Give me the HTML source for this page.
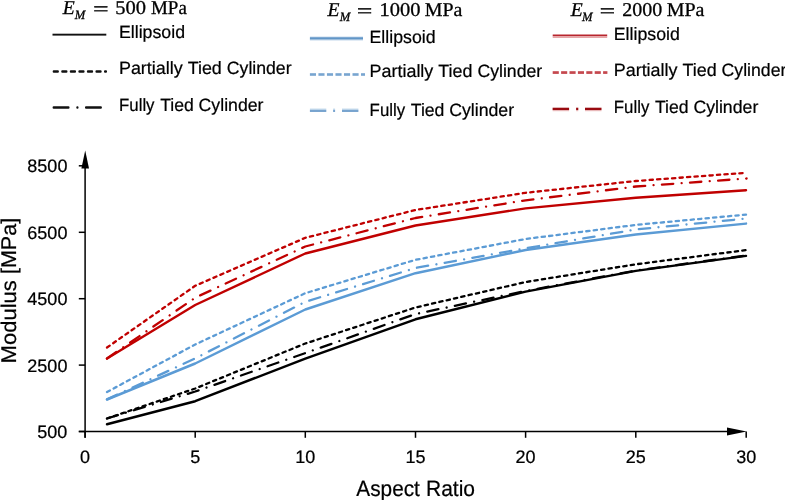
<!DOCTYPE html>
<html><head><meta charset="utf-8"><title>Modulus vs Aspect Ratio</title>
<style>html,body{margin:0;padding:0;background:#fff;}svg{display:block;}text{font-family:"Liberation Sans", Arial, sans-serif;fill:#000;stroke:#000;stroke-width:0.22px;text-rendering:geometricPrecision;}.m{font-family:"Liberation Serif", "Times New Roman", serif;stroke-width:0.3px;}.q{stroke-width:0.3px;}</style>
</head><body>
<svg width="785" height="500" viewBox="0 0 785 500">
<rect width="785" height="500" fill="#fff"/>
<polyline points="107.0,424.3 195.2,401.2 305.3,358.6 415.5,319.3 525.6,291.6 635.8,270.9 746.0,255.9" fill="none" stroke="#000000" stroke-width="2.45" stroke-linejoin="round" stroke-linecap="round"/>
<polyline points="107.0,418.5 195.2,388.5 305.3,343.5 415.5,307.5 525.6,282.0 635.8,264.3 746.0,250.1" fill="none" stroke="#000000" stroke-width="2.30" stroke-linejoin="round" stroke-dasharray="3.30 4.20" stroke-linecap="round"/>
<polyline points="107.0,418.5 195.2,391.5 305.3,353.1 415.5,314.0 525.6,291.0 635.8,270.5 746.0,255.6" fill="none" stroke="#000000" stroke-width="2.30" stroke-linejoin="round" stroke-dasharray="11.36 8.39 0.01 8.39" stroke-linecap="round"/>
<polyline points="107.0,399.5 195.2,363.5 305.3,309.5 415.5,273.2 525.6,250.0 635.8,234.5 746.0,223.6" fill="none" stroke="#5B9BD5" stroke-width="2.45" stroke-linejoin="round" stroke-linecap="round"/>
<polyline points="107.0,392.0 195.2,344.5 305.3,293.2 415.5,259.8 525.6,239.0 635.8,224.9 746.0,214.6" fill="none" stroke="#5B9BD5" stroke-width="2.30" stroke-linejoin="round" stroke-dasharray="3.30 4.20" stroke-linecap="round"/>
<polyline points="107.0,399.4 195.2,358.4 305.3,301.8 415.5,268.0 525.6,248.3 635.8,229.5 746.0,218.6" fill="none" stroke="#5B9BD5" stroke-width="2.30" stroke-linejoin="round" stroke-dasharray="11.36 8.39 0.01 8.39" stroke-linecap="round"/>
<polyline points="107.0,358.5 195.2,305.0 305.3,253.5 415.5,225.5 525.6,208.4 635.8,197.8 746.0,190.2" fill="none" stroke="#C00000" stroke-width="2.45" stroke-linejoin="round" stroke-linecap="round"/>
<polyline points="107.0,347.5 195.2,285.8 305.3,237.8 415.5,210.0 525.6,192.8 635.8,181.0 746.0,172.8" fill="none" stroke="#C00000" stroke-width="2.30" stroke-linejoin="round" stroke-dasharray="3.30 4.20" stroke-linecap="round"/>
<polyline points="107.0,358.5 195.2,297.7 305.3,246.5 415.5,218.0 525.6,200.3 635.8,186.5 746.6,178.5" fill="none" stroke="#C00000" stroke-width="2.30" stroke-linejoin="round" stroke-dasharray="11.36 8.39 0.01 8.39" stroke-linecap="round"/>
<g stroke="#000" stroke-width="1.5" fill="none">
<line x1="85.1" y1="437.8" x2="85.1" y2="166.0"/>
<line x1="78.8" y1="431.5" x2="730.0" y2="431.5"/>
<line x1="78.8" y1="165.8" x2="85.1" y2="165.8"/>
<line x1="78.8" y1="232.3" x2="85.1" y2="232.3"/>
<line x1="78.8" y1="298.7" x2="85.1" y2="298.7"/>
<line x1="78.8" y1="365.1" x2="85.1" y2="365.1"/>
<line x1="78.8" y1="431.5" x2="85.1" y2="431.5"/>
<line x1="85.1" y1="431.5" x2="85.1" y2="437.8"/>
<line x1="195.2" y1="431.5" x2="195.2" y2="437.8"/>
<line x1="305.3" y1="431.5" x2="305.3" y2="437.8"/>
<line x1="415.5" y1="431.5" x2="415.5" y2="437.8"/>
<line x1="525.6" y1="431.5" x2="525.6" y2="437.8"/>
<line x1="635.8" y1="431.5" x2="635.8" y2="437.8"/>
<line x1="746.2" y1="431.5" x2="746.2" y2="437.8"/>
</g>
<polygon points="85.2,150.4 81.4,168.6 89.0,168.6" fill="#000"/>
<polygon points="746.6,431.5 727.0,427.6 727.0,435.4" fill="#000"/>
<text x="67.4" y="172.2" font-size="18" text-anchor="end">8500</text>
<text x="67.4" y="238.7" font-size="18" text-anchor="end">6500</text>
<text x="67.4" y="305.1" font-size="18" text-anchor="end">4500</text>
<text x="67.4" y="371.5" font-size="18" text-anchor="end">2500</text>
<text x="67.4" y="437.9" font-size="18" text-anchor="end">500</text>
<text x="85.1" y="463.2" font-size="18" text-anchor="middle">0</text>
<text x="195.2" y="463.2" font-size="18" text-anchor="middle">5</text>
<text x="305.3" y="463.2" font-size="18" text-anchor="middle">10</text>
<text x="415.5" y="463.2" font-size="18" text-anchor="middle">15</text>
<text x="525.6" y="463.2" font-size="18" text-anchor="middle">20</text>
<text x="635.8" y="463.2" font-size="18" text-anchor="middle">25</text>
<text x="746.2" y="463.2" font-size="18" text-anchor="middle">30</text>
<text x="356.36" y="495.6" font-size="22" textLength="63.49" lengthAdjust="spacingAndGlyphs">Aspect</text>
<text x="425.98" y="495.6" font-size="22" textLength="49.00" lengthAdjust="spacingAndGlyphs">Ratio</text>
<text transform="translate(15.9,361.60) rotate(-90)" x="-1.81" y="0" font-size="21.3" textLength="83.20" lengthAdjust="spacingAndGlyphs">Modulus</text>
<text transform="translate(15.9,272.50) rotate(-90)" x="-1.53" y="0" font-size="21.3" textLength="56.17" lengthAdjust="spacingAndGlyphs">[MPa]</text>
<text class="m" x="62.8" y="14.2" font-size="19.6" font-style="italic">E</text>
<text class="m" x="74.7" y="18.5" font-size="12.6" font-style="italic">M</text>
<text class="q" transform="translate(93.30,13.80) scale(1.65,1)" font-size="15.8">=</text>
<text class="m" x="115.3" y="14.2" font-size="19.6" textLength="30.8" lengthAdjust="spacingAndGlyphs">500</text>
<text class="m" x="151.0" y="14.2" font-size="19.6" textLength="35.8" lengthAdjust="spacingAndGlyphs">MPa</text>
<text class="m" x="327.6" y="16.3" font-size="19.6" font-style="italic">E</text>
<text class="m" x="339.8" y="20.6" font-size="12.6" font-style="italic">M</text>
<text class="q" transform="translate(356.90,15.90) scale(1.65,1)" font-size="15.8">=</text>
<text class="m" x="379.4" y="16.3" font-size="19.6" textLength="41.0" lengthAdjust="spacingAndGlyphs">1000</text>
<text class="m" x="424.8" y="16.3" font-size="19.6" textLength="37.6" lengthAdjust="spacingAndGlyphs">MPa</text>
<text class="m" x="570.8" y="16.3" font-size="19.6" font-style="italic">E</text>
<text class="m" x="581.9" y="20.6" font-size="12.6" font-style="italic">M</text>
<text class="q" transform="translate(599.70,15.90) scale(1.65,1)" font-size="15.8">=</text>
<text class="m" x="622.2" y="16.3" font-size="19.6" textLength="40.0" lengthAdjust="spacingAndGlyphs">2000</text>
<text class="m" x="666.7" y="16.3" font-size="19.6" textLength="37.8" lengthAdjust="spacingAndGlyphs">MPa</text>
<rect x="52.50" y="33.70" width="53.80" height="1.90" fill="#111"/>
<rect x="52.70" y="70.35" width="6.20" height="2.30" fill="#111" rx="1.0"/>
<rect x="61.25" y="70.35" width="6.20" height="2.30" fill="#111" rx="1.0"/>
<rect x="69.80" y="70.35" width="6.20" height="2.30" fill="#111" rx="1.0"/>
<rect x="78.35" y="70.35" width="6.20" height="2.30" fill="#111" rx="1.0"/>
<rect x="86.90" y="70.35" width="6.20" height="2.30" fill="#111" rx="1.0"/>
<rect x="95.45" y="70.35" width="6.20" height="2.30" fill="#111" rx="1.0"/>
<rect x="104.00" y="70.35" width="3.00" height="2.30" fill="#111" rx="1.0"/>
<rect x="52.60" y="106.35" width="16.90" height="2.30" fill="#111" rx="1.0"/>
<rect x="76.30" y="106.35" width="2.20" height="2.30" fill="#111" rx="1.0"/>
<rect x="85.00" y="106.35" width="16.90" height="2.30" fill="#111" rx="1.0"/>
<rect x="309.90" y="36.30" width="53.10" height="0.90" fill="#D8E6F2"/>
<rect x="309.90" y="37.20" width="53.10" height="2.50" fill="#6196C7"/>
<rect x="309.90" y="39.70" width="53.10" height="0.80" fill="#C4D8EB"/>
<rect x="309.90" y="73.20" width="6.10" height="2.60" fill="#78A5D0"/>
<rect x="318.42" y="73.20" width="6.10" height="2.60" fill="#78A5D0"/>
<rect x="326.94" y="73.20" width="6.10" height="2.60" fill="#78A5D0"/>
<rect x="335.46" y="73.20" width="6.10" height="2.60" fill="#78A5D0"/>
<rect x="343.98" y="73.20" width="6.10" height="2.60" fill="#78A5D0"/>
<rect x="352.50" y="73.20" width="6.10" height="2.60" fill="#78A5D0"/>
<rect x="361.02" y="73.20" width="3.98" height="2.60" fill="#78A5D0"/>
<rect x="309.90" y="108.60" width="16.40" height="1.60" fill="#BCD4E9"/>
<rect x="309.90" y="110.20" width="16.40" height="1.60" fill="#5A8FC4"/>
<rect x="333.10" y="108.60" width="2.00" height="1.60" fill="#BCD4E9"/>
<rect x="333.10" y="110.20" width="2.00" height="1.60" fill="#5A8FC4"/>
<rect x="342.00" y="108.60" width="16.40" height="1.60" fill="#BCD4E9"/>
<rect x="342.00" y="110.20" width="16.40" height="1.60" fill="#5A8FC4"/>
<rect x="552.70" y="34.50" width="54.50" height="1.70" fill="#B8262E"/>
<rect x="552.70" y="36.20" width="54.50" height="1.70" fill="#E39C9E"/>
<rect x="552.70" y="71.20" width="6.10" height="2.70" fill="#C5484E"/>
<rect x="561.10" y="71.20" width="6.10" height="2.70" fill="#C5484E"/>
<rect x="569.50" y="71.20" width="6.10" height="2.70" fill="#C5484E"/>
<rect x="577.90" y="71.20" width="6.10" height="2.70" fill="#C5484E"/>
<rect x="586.30" y="71.20" width="6.10" height="2.70" fill="#C5484E"/>
<rect x="594.70" y="71.20" width="6.10" height="2.70" fill="#C5484E"/>
<rect x="603.10" y="71.20" width="4.30" height="2.70" fill="#C5484E"/>
<rect x="552.60" y="107.70" width="16.50" height="2.30" fill="#990A10"/>
<rect x="552.60" y="110.00" width="16.50" height="1.20" fill="#E8B8B9"/>
<rect x="576.10" y="107.70" width="2.20" height="2.30" fill="#990A10"/>
<rect x="576.10" y="110.00" width="2.20" height="1.20" fill="#E8B8B9"/>
<rect x="585.00" y="107.70" width="16.50" height="2.30" fill="#990A10"/>
<rect x="585.00" y="110.00" width="16.50" height="1.20" fill="#E8B8B9"/>
<text x="118.94" y="38.0" font-size="17.8" textLength="66.10" lengthAdjust="spacingAndGlyphs">Ellipsoid</text>
<text x="118.93" y="74.4" font-size="17.8" textLength="63.81" lengthAdjust="spacingAndGlyphs">Partially</text>
<text x="187.71" y="74.4" font-size="17.8" textLength="34.12" lengthAdjust="spacingAndGlyphs">Tied</text>
<text x="226.80" y="74.4" font-size="17.8" textLength="64.79" lengthAdjust="spacingAndGlyphs">Cylinder</text>
<text x="119.02" y="111.4" font-size="17.8" textLength="35.51" lengthAdjust="spacingAndGlyphs">Fully</text>
<text x="160.21" y="111.4" font-size="17.8" textLength="33.60" lengthAdjust="spacingAndGlyphs">Tied</text>
<text x="198.60" y="111.4" font-size="17.8" textLength="64.89" lengthAdjust="spacingAndGlyphs">Cylinder</text>
<text x="369.54" y="43.0" font-size="17.8" textLength="66.10" lengthAdjust="spacingAndGlyphs">Ellipsoid</text>
<text x="369.53" y="77.4" font-size="17.8" textLength="63.81" lengthAdjust="spacingAndGlyphs">Partially</text>
<text x="438.31" y="77.4" font-size="17.8" textLength="34.12" lengthAdjust="spacingAndGlyphs">Tied</text>
<text x="477.40" y="77.4" font-size="17.8" textLength="64.79" lengthAdjust="spacingAndGlyphs">Cylinder</text>
<text x="369.62" y="116.2" font-size="17.8" textLength="35.51" lengthAdjust="spacingAndGlyphs">Fully</text>
<text x="410.81" y="116.2" font-size="17.8" textLength="33.60" lengthAdjust="spacingAndGlyphs">Tied</text>
<text x="449.20" y="116.2" font-size="17.8" textLength="64.89" lengthAdjust="spacingAndGlyphs">Cylinder</text>
<text x="613.74" y="40.0" font-size="17.8" textLength="66.10" lengthAdjust="spacingAndGlyphs">Ellipsoid</text>
<text x="613.73" y="76.4" font-size="17.8" textLength="63.81" lengthAdjust="spacingAndGlyphs">Partially</text>
<text x="682.51" y="76.4" font-size="17.8" textLength="34.12" lengthAdjust="spacingAndGlyphs">Tied</text>
<text x="721.60" y="76.4" font-size="17.8" textLength="64.79" lengthAdjust="spacingAndGlyphs">Cylinder</text>
<text x="613.82" y="113.2" font-size="17.8" textLength="35.51" lengthAdjust="spacingAndGlyphs">Fully</text>
<text x="655.01" y="113.2" font-size="17.8" textLength="33.60" lengthAdjust="spacingAndGlyphs">Tied</text>
<text x="693.40" y="113.2" font-size="17.8" textLength="64.89" lengthAdjust="spacingAndGlyphs">Cylinder</text>
</svg>
</body></html>
